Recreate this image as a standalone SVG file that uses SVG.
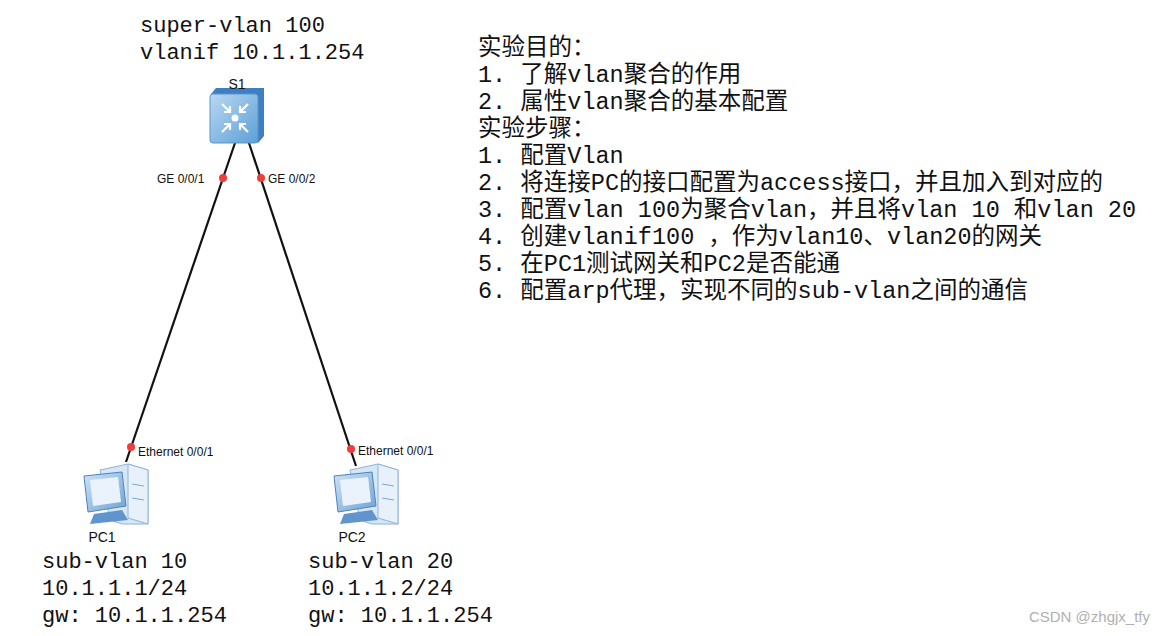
<svg xmlns="http://www.w3.org/2000/svg" width="1157" height="636" viewBox="0 0 1157 636">
<style>
.m{font-family:"Liberation Mono","Noto Sans CJK SC",monospace;font-size:22px;fill:#111}
.r{font-family:"Liberation Mono","Noto Sans CJK SC",monospace;font-size:23.5px;fill:#111}
.s{font-family:"Liberation Sans",Arial,sans-serif;font-size:12px;fill:#111}
.lb{font-family:"Liberation Sans",Arial,sans-serif;font-size:14px;fill:#111}
.lk{stroke:#111;stroke-width:2.2;fill:none}
.dot{fill:#f03c3c}
</style>
<defs>
<linearGradient id="sw" x1="0" y1="0" x2="1" y2="1"><stop offset="0" stop-color="#b9d8f2"/><stop offset="1" stop-color="#5d9fd6"/></linearGradient>
<linearGradient id="pc" x1="0" y1="0" x2="1" y2="1"><stop offset="0" stop-color="#cfe3f5"/><stop offset="1" stop-color="#6fa3d4"/></linearGradient>
<g id="pcicon">
<path d="M18,8 L46,2 L66,8 L66,62 L40,62 L28,58 Z" fill="#d6e6f5" stroke="#8db4da"/>
<path d="M46,2 L66,8 L66,62 L46,56 Z" fill="#e8f1fa" stroke="#8db4da"/>
<path d="M2,14 L40,10 L44,44 L6,50 Z" fill="url(#pc)" stroke="#4a85c0"/>
<path d="M8,18 L36,15 L39,40 L11,44 Z" fill="#eaf3fb"/>
<path d="M12,52 L40,48 L46,58 L8,62 Z" fill="#5f95cc"/>
<line x1="50" y1="22" x2="62" y2="24" stroke="#7aa8d6"/>
<line x1="50" y1="36" x2="62" y2="38" stroke="#7aa8d6"/>
</g>
</defs>
<g id="connectors">
<line class="lk" x1="236" y1="140" x2="126" y2="462"/>
<line class="lk" x1="248" y1="140" x2="356" y2="466"/>
<circle class="dot" cx="223" cy="178" r="4"/>
<circle class="dot" cx="261" cy="178" r="4"/>
<circle class="dot" cx="131" cy="447" r="4"/>
<circle class="dot" cx="351" cy="449" r="4"/>
<text class="s" x="157" y="183">GE 0/0/1</text>
<text class="s" x="268" y="183">GE 0/0/2</text>
<text class="s" x="138" y="456">Ethernet 0/0/1</text>
<text class="s" x="358" y="455">Ethernet 0/0/1</text>
</g>
<g id="S1">
<path d="M211,94 L216,88 L264,88 L264,136 L258,143 Z" fill="#3d7fc1"/>
<rect x="210" y="94" width="48" height="49" rx="3" fill="url(#sw)" stroke="#5a95cc"/>
<g stroke="#fff" stroke-width="2.2" fill="none">
<path d="M222,104 L230,112 M230,106 L230,112 L224,112"/>
<path d="M248,104 L240,112 M240,106 L240,112 L246,112"/>
<path d="M222,132 L230,124 M230,130 L230,124 L224,124"/>
<path d="M248,132 L240,124 M240,130 L240,124 L246,124"/>
</g>
<circle cx="235" cy="118" r="3.5" fill="#fff"/>
<text class="lb" x="237" y="89" text-anchor="middle">S1</text>
<text class="m" x="140" y="32">super-vlan 100</text>
<text class="m" x="140" y="59">vlanif 10.1.1.254</text>
</g>
<g id="PC1">
<use href="#pcicon" x="82" y="462"/>
<text class="lb" x="102" y="542" text-anchor="middle">PC1</text>
<text class="m" x="42" y="568">sub-vlan 10</text>
<text class="m" x="42" y="595">10.1.1.1/24</text>
<text class="m" x="42" y="622">gw: 10.1.1.254</text>
</g>
<g id="PC2">
<use href="#pcicon" x="332" y="462"/>
<text class="lb" x="352" y="542" text-anchor="middle">PC2</text>
<text class="m" x="308" y="568">sub-vlan 20</text>
<text class="m" x="308" y="595">10.1.1.2/24</text>
<text class="m" x="308" y="622">gw: 10.1.1.254</text>
</g>
<g id="notes">
<text class="r" x="478" y="55">实验目的：</text>
<text class="r" x="478" y="82">1. 了解vlan聚合的作用</text>
<text class="r" x="478" y="109">2. 属性vlan聚合的基本配置</text>
<text class="r" x="478" y="136">实验步骤：</text>
<text class="r" x="478" y="163">1. 配置Vlan</text>
<text class="r" x="478" y="190">2. 将连接PC的接口配置为access接口，并且加入到对应的</text>
<text class="r" x="478" y="217">3. 配置vlan 100为聚合vlan，并且将vlan 10 和vlan 20</text>
<text class="r" x="478" y="244">4. 创建vlanif100 ，作为vlan10、vlan20的网关</text>
<text class="r" x="478" y="271">5. 在PC1测试网关和PC2是否能通</text>
<text class="r" x="478" y="298">6. 配置arp代理，实现不同的sub-vlan之间的通信</text>
</g>
<text x="1150" y="622" text-anchor="end" font-family="Liberation Sans,Noto Sans,sans-serif" font-size="15" fill="#b0b0b0">CSDN @zhgjx_tfy</text>
</svg>
